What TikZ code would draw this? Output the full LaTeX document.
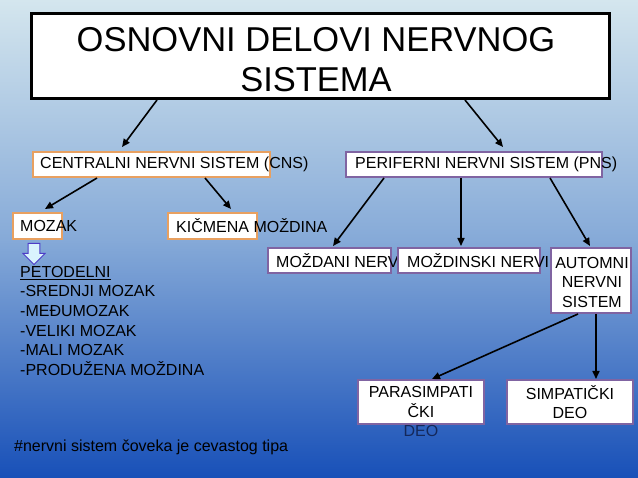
\documentclass[tikz,border=0pt]{standalone}
\usepackage{fontspec}
\setmainfont{Liberation Sans}
\usetikzlibrary{arrows.meta,shapes.arrows}
\definecolor{bgtop}{HTML}{D4E6EE}
\definecolor{bgmid}{HTML}{86AAD8}
\definecolor{bgbot}{HTML}{1850B8}
\definecolor{orng}{HTML}{E8A060}
\definecolor{purp}{HTML}{8064A2}
\definecolor{dblue}{HTML}{14285A}
\begin{document}
\begin{tikzpicture}[x=1pt,y=-1pt,
  box/.style={draw=#1,fill=white,line width=1.5pt},
  lbl/.style={anchor=west,inner sep=0pt,font=\fontsize{16}{19}\selectfont},
  ctr/.style={align=center,inner sep=0pt,font=\fontsize{16}{19.5}\selectfont},
  arr/.style={-{Triangle[length=8pt,width=7pt]},line width=1.6pt}]
\useasboundingbox (0,0) rectangle (638,478);
\shade[top color=bgtop,bottom color=bgbot,middle color=bgmid] (0,0) rectangle (638,478);
% title
\draw[line width=3pt,fill=white] (31,14) rectangle (609,99);
\node[ctr,font=\fontsize{34.5}{40}\selectfont] (title) at (316,60) {OSNOVNI DELOVI NERVNOG\\SISTEMA};
% boxes
\draw[box=orng] (33,152) rectangle (270,177);
\node[lbl] (cns) at (40,164.5) {CENTRALNI NERVNI SISTEM (CNS)};
\draw[box=purp] (346,152) rectangle (602,177);
\node[lbl] (pns) at (355,164.5) {PERIFERNI NERVNI SISTEM (PNS)};
\draw[box=orng] (13,213) rectangle (62,239);
\node[lbl] (mozak) at (20,226) {MOZAK};
\draw[box=orng] (168,213) rectangle (257,239);
\node[lbl] (kic) at (176,226) {KIČMENA MOŽDINA};
\draw[box=purp] (268,248) rectangle (391,273);
\node[lbl] (mozd) at (276,260.5) {MOŽDANI NERV};
\draw[box=purp] (398,248) rectangle (540,273);
\node[lbl] (mozdi) at (407,260.5) {MOŽDINSKI NERVI};
\draw[box=purp] (551,248) rectangle (631,313);
\node[ctr] (aut) at (592,282) {AUTOMNI\\NERVNI\\SISTEM};
\draw[box=purp] (358,380) rectangle (484,424);
\node[ctr] (para) at (421,402) {PARASIMPATI\\ČKI};
\node[lbl,anchor=center,text=dblue] (deo) at (421,431) {DEO};
\draw[box=purp] (507,380) rectangle (633,424);
\node[ctr] (simp) at (570,402) {SIMPATIČKI\\DEO};
% hollow arrow
\node[single arrow,shape border rotate=270,draw=purp!60!blue,fill=cyan!15!white,line width=1pt,
  minimum height=21pt,minimum width=22pt,single arrow head extend=3pt,inner sep=3pt] (harr) at (34,251) {};
% list
\node[anchor=north west,inner sep=0pt,align=left,font=\fontsize{16}{19.6}\selectfont] (list) at (20,266)
 {\underline{PETODELNI}\\-SREDNJI MOZAK\\-MEĐUMOZAK\\-VELIKI MOZAK\\-MALI MOZAK\\-PRODUŽENA MOŽDINA};
\node[anchor=west,inner sep=0pt,font=\fontsize{16}{19}\selectfont] (note) at (14,447) {\#nervni sistem čoveka je cevastog tipa};
% arrows
\coordinate (t1) at (157,100); \coordinate (t2) at (465,100);
\coordinate (c1) at (122,147); \coordinate (p1) at (503,147);
\draw[arr] (t1) -- (c1);
\draw[arr] (t2) -- (p1);
\coordinate (cs1) at (97,178); \coordinate (cs2) at (205,178);
\coordinate (me) at (45,209); \coordinate (ke) at (231,209);
\draw[arr] (cs1) -- (me);
\draw[arr] (cs2) -- (ke);
\coordinate (ps1) at (384,178); \coordinate (ps2) at (461,178); \coordinate (ps3) at (550,178);
\coordinate (pe1) at (333,246); \coordinate (pe2) at (461,246); \coordinate (pe3) at (590,246);
\draw[arr] (ps1) -- (pe1);
\draw[arr] (ps2) -- (pe2);
\draw[arr] (ps3) -- (pe3);
\coordinate (as1) at (578,314); \coordinate (as2) at (596,314);
\coordinate (ae1) at (432,379); \coordinate (ae2) at (596,379);
\draw[arr] (as1) -- (ae1);
\draw[arr] (as2) -- (ae2);
\end{tikzpicture}
\end{document}
